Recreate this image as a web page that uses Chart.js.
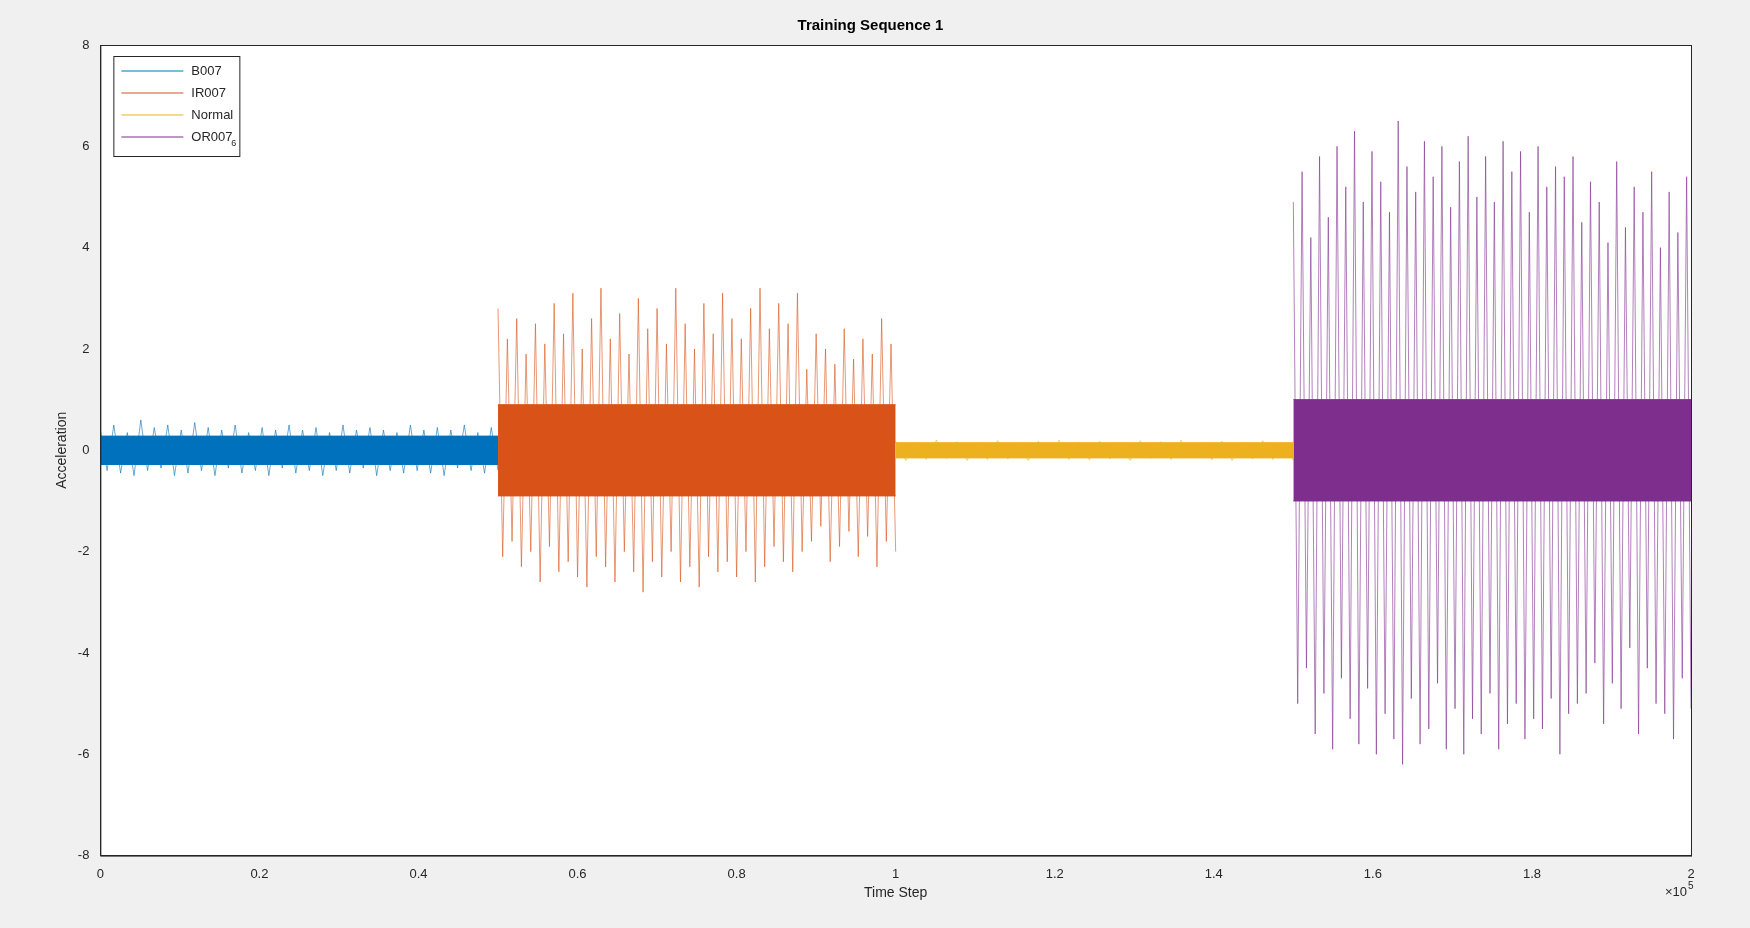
<!DOCTYPE html>
<html><head><meta charset="utf-8">
<script src="https://cdn.jsdelivr.net/npm/chart.js@4/dist/chart.umd.min.js"></script>
<style>html,body{margin:0;padding:0;background:#f0f0f0}#w{width:1750px;height:928px}</style>
</head><body><div id="w"><canvas id="c"></canvas></div>
<script>
const seriesNames=["B007","IR007","Normal","OR007_6"];
const seriesColors=["#0072BD","#D95319","#EDB120","#7E2F8E"];
const segStart=[0,50000,100000,150000];
const segLen=50000;
const yTicks=[-8,-6,-4,-2,0,2,4,6,8];
const b007=[0.4,-0.4,0.5,-0.45,0.35,-0.5,0.6,-0.4,0.45,-0.35,0.5,-0.5,0.4,-0.45,0.55,-0.4,0.45,-0.5,0.4,-0.35,0.5,-0.45,0.35,-0.4,0.45,-0.5,0.4,-0.35,0.5,-0.45,0.4,-0.4,0.45,-0.5,0.35,-0.4,0.5,-0.45,0.4,-0.35,0.45,-0.5,0.4,-0.4,0.35,-0.45,0.5,-0.4,0.4,-0.45,0.45,-0.5,0.4,-0.35,0.5,-0.4,0.35,-0.45,0.45,-0.4];
const ir007=[2.8,-2.1,2.2,-1.8,2.6,-2.3,1.9,-2.0,2.5,-2.6,2.1,-1.9,2.9,-2.4,2.3,-2.2,3.1,-2.5,2.0,-2.7,2.6,-2.1,3.2,-2.3,2.2,-2.6,2.7,-2.0,1.9,-2.4,3.0,-2.8,2.4,-2.2,2.8,-2.5,2.1,-2.0,3.2,-2.6,2.5,-2.3,2.0,-2.7,2.9,-2.1,2.3,-2.4,3.1,-2.2,2.6,-2.5,2.2,-2.0,2.8,-2.6,3.2,-2.3,2.4,-1.9,2.9,-2.2,2.5,-2.4,3.1,-2.0,1.6,-1.8,2.3,-1.5,2.0,-2.2,1.7,-1.9,2.4,-1.6,1.8,-2.1,2.2,-1.7,1.9,-2.3,2.6,-1.8,2.1,-2.0];
const normal=[0.18,-0.2,0.15,-0.18,0.2,-0.16,0.17,-0.2,0.15,-0.18,0.19,-0.17,0.16,-0.2,0.18,-0.15,0.2,-0.18,0.16,-0.19,0.18,-0.17,0.15,-0.2,0.19,-0.16,0.17,-0.18,0.2,-0.15,0.16,-0.19,0.18,-0.2,0.15,-0.17,0.19,-0.18,0.16,-0.2];
const or007=[4.9,-5.0,5.5,-4.3,4.2,-5.6,5.8,-4.8,4.6,-5.9,6.0,-4.5,5.2,-5.3,6.3,-5.8,4.9,-4.7,5.9,-6.0,5.3,-5.2,4.7,-5.7,6.5,-6.2,5.6,-4.9,5.1,-5.8,6.1,-5.5,5.4,-4.6,6.0,-5.9,4.8,-5.1,5.7,-6.0,6.2,-5.3,5.0,-5.6,5.8,-4.8,4.9,-5.9,6.1,-5.4,5.5,-5.0,5.9,-5.7,4.7,-5.3,6.0,-5.5,5.2,-4.9,5.6,-6.0,5.4,-5.2,5.8,-5.0,4.5,-4.8,5.3,-4.2,4.9,-5.4,4.1,-4.6,5.7,-5.1,4.4,-3.9,5.2,-5.6,4.7,-4.3,5.5,-5.0,4.0,-5.2,5.1,-5.7,4.3,-4.5,5.4,-5.1];
const coreHalf=[0.28,0.9,0.15,1.0];
const spikes=[b007,ir007,normal,or007];

function spikeData(vals,s){return vals.map((v,i)=>({x:s+i*segLen/(vals.length-1),y:v}));}
const datasets=[];
spikes.forEach((vals,k)=>{
  const s=segStart[k],col=seriesColors[k];
  datasets.push({label:seriesNames[k],data:spikeData(vals,s),borderColor:col+"99",backgroundColor:col,borderWidth:1,pointRadius:0,tension:0,order:2});
  datasets.push({label:"_u"+k,data:[{x:s,y:coreHalf[k]},{x:s+segLen,y:coreHalf[k]}],borderColor:col,borderWidth:1,pointRadius:0,fill:false,order:1});
  datasets.push({label:"_l"+k,data:[{x:s,y:-coreHalf[k]},{x:s+segLen,y:-coreHalf[k]}],borderColor:col,backgroundColor:col,borderWidth:1,pointRadius:0,fill:'-1',order:1});
});
const bg={id:'bg',beforeDraw(c){const a=c.chartArea,x=c.ctx;x.save();x.fillStyle='#fff';x.fillRect(a.left,a.top,a.right-a.left,a.bottom-a.top);x.restore();},
 afterDraw(c){const a=c.chartArea,x=c.ctx;x.save();x.strokeStyle='#262626';x.lineWidth=1;x.strokeRect(a.left+0.5,a.top+0.5,a.right-a.left,a.bottom-a.top);
 x.fillStyle='#262626';x.font='13px Liberation Sans';x.textAlign='right';x.fillText('×10',a.right-4,a.bottom+40);x.font='10px Liberation Sans';x.textAlign='left';x.fillText('5',a.right-3,a.bottom+33);
 const lx=a.left+13,ly=a.top+11,w=126,h=100;x.fillStyle='#fff';x.fillRect(lx,ly,w,h);x.strokeStyle='#262626';x.strokeRect(lx+0.5,ly+0.5,w,h);
 seriesNames.forEach((n,i)=>{const yy=ly+15+i*22;x.strokeStyle=seriesColors[i];x.lineWidth=1;x.beginPath();x.moveTo(lx+8,yy);x.lineTo(lx+70,yy);x.stroke();
 x.fillStyle='#262626';x.font='13px Liberation Sans';x.textAlign='left';if(i<3)x.fillText(n,lx+78,yy+4);else{x.fillText('OR007',lx+78,yy+4);x.font='9px Liberation Sans';x.fillText('6',lx+118,yy+9);}});
 x.restore();}};
new Chart(document.getElementById('c'),{type:'line',data:{datasets},plugins:[bg],
options:{responsive:true,maintainAspectRatio:false,animation:false,
layout:{padding:{left:50,right:59,top:11,bottom:22}},
plugins:{legend:{display:false},tooltip:{enabled:false},title:{display:true,text:'Training Sequence 1',color:'#000',font:{family:'Liberation Sans',size:15,weight:'bold'},padding:{top:6,bottom:10}}},
scales:{x:{type:'linear',min:0,max:200000,ticks:{stepSize:20000,color:'#262626',font:{family:'Liberation Sans',size:13},callback:v=>(v/1e5).toString(),maxRotation:0},grid:{display:false},border:{color:'#262626'},title:{display:true,text:'Time Step',color:'#262626',font:{family:'Liberation Sans',size:14},padding:{top:0}}},
y:{min:-8,max:8,afterBuildTicks:ax=>{ax.ticks=yTicks.map(v=>({value:v}));},ticks:{color:'#262626',font:{family:'Liberation Sans',size:13}},grid:{display:false},border:{color:'#262626'},title:{display:true,text:'Acceleration',color:'#262626',font:{family:'Liberation Sans',size:14}}}}}});
</script></body></html>
